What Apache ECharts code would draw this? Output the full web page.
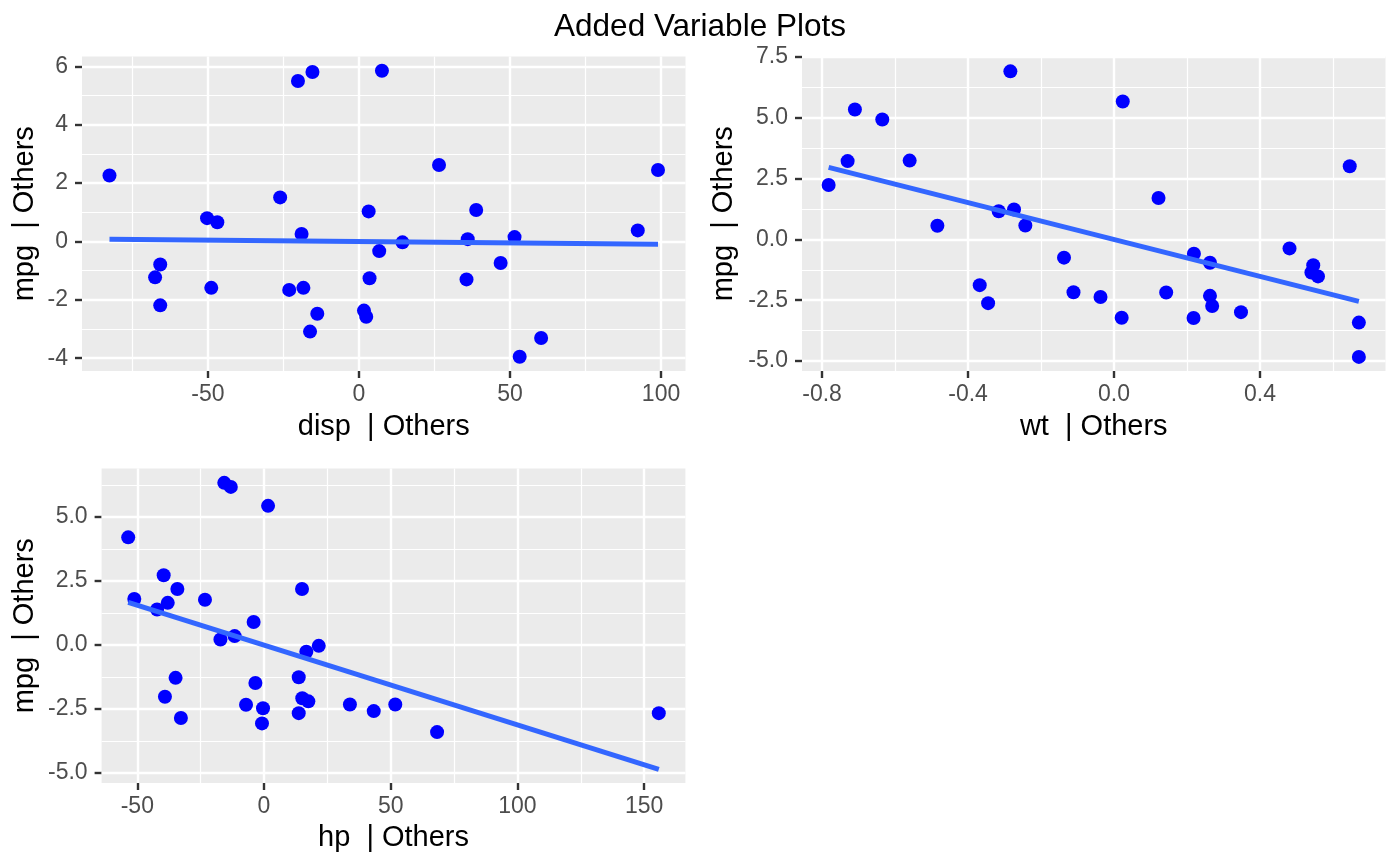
<!DOCTYPE html>
<html><head><meta charset="utf-8">
<script src="https://cdn.jsdelivr.net/npm/echarts@6/dist/echarts.min.js"></script>
<style>html,body{margin:0;padding:0;background:#fff}#c{width:1400px;height:866px}</style>
</head><body><div id="c"></div><script>
// ---- data ----
const dispX = [-82.6, -50.3, -46.9, -26.1, -20.2, -15.4, 7.6, 3.2, -19.0, 26.5, 99.0, 38.8, 92.3, 51.5, 36.0, 14.4, -65.8, -67.5, -65.8, -48.9, -23.1, -18.4, -13.8, -16.2, 1.65, 2.4, 3.5, 6.7, 46.9, 35.6, 60.3, 53.2];
const dispY = [2.26, 0.80, 0.66, 1.51, 5.50, 5.81, 5.85, 1.03, 0.26, 2.62, 2.45, 1.08, 0.38, 0.15, 0.08, -0.03, -0.79, -1.23, -2.19, -1.59, -1.66, -1.59, -2.48, -3.09, -2.37, -2.58, -1.26, -0.33, -0.74, -1.30, -3.31, -3.95];
const dispFitX = [-82.6, 99.0];
const dispFitY = [0.077, -0.093];

const wtX = [-0.782, -0.730, -0.710, -0.635, -0.560, -0.484, -0.284, -0.316, -0.274, -0.243, -0.368, -0.345, -0.137, -0.111, -0.037, 0.021, 0.024, 0.122, 0.143, 0.219, 0.263, 0.263, 0.269, 0.218, 0.348, 0.481, 0.546, 0.541, 0.559, 0.646, 0.671, 0.671];
const wtY = [2.24, 3.22, 5.34, 4.93, 3.24, 0.56, 6.91, 1.16, 1.23, 0.57, -1.88, -2.62, -0.75, -2.17, -2.37, -3.22, 5.67, 1.70, -2.18, -0.59, -0.96, -2.32, -2.74, -3.23, -2.99, -0.37, -1.06, -1.36, -1.52, 3.01, -3.42, -4.83];
const wtFitX = [-0.782, 0.671];
const wtFitY = [2.96, -2.55];

const hpX = [-15.7, -13.1, 1.6, -53.6, -39.6, -34.2, 15.0, -51.2, -38.0, -42.2, -23.3, -4.1, -17.2, -11.6, 16.7, 21.6, -34.9, -39.1, -32.8, -3.4, -7.1, -0.4, -0.8, 13.7, 15.1, 17.5, 13.7, 33.9, 43.3, 51.8, 68.3, 155.8];
const hpY = [6.34, 6.18, 5.44, 4.21, 2.73, 2.19, 2.19, 1.80, 1.65, 1.39, 1.77, 0.90, 0.22, 0.35, -0.26, -0.03, -1.28, -2.02, -2.85, -1.48, -2.33, -2.47, -3.06, -1.26, -2.08, -2.20, -2.66, -2.32, -2.58, -2.32, -3.40, -2.66];
const hpFitX = [-53.6, 155.8];
const hpFitY = [1.67, -4.86];

// tick values and labels
const dispXTicks = [-50, 0, 50, 100];
const dispXLabels = ['-50', '0', '50', '100'];
const dispXMinor = [-75, -25, 25, 75];
const dispYTicks = [-4, -2, 0, 2, 4, 6];
const dispYLabels = ['-4', '-2', '0', '2', '4', '6'];
const dispYMinor = [-3, -1, 1, 3, 5];

const wtXTicks = [-0.8, -0.4, 0, 0.4];
const wtXLabels = ['-0.8', '-0.4', '0.0', '0.4'];
const wtXMinor = [-0.6, -0.2, 0.2, 0.6];
const wtYTicks = [-5, -2.5, 0, 2.5, 5, 7.5];
const wtYLabels = ['-5.0', '-2.5', '0.0', '2.5', '5.0', '7.5'];
const wtYMinor = [-3.75, -1.25, 1.25, 3.75, 6.25];

const hpXTicks = [-50, 0, 50, 100, 150];
const hpXLabels = ['-50', '0', '50', '100', '150'];
const hpXMinor = [-25, 25, 75, 125];
const hpYTicks = [-5, -2.5, 0, 2.5, 5];
const hpYLabels = ['-5.0', '-2.5', '0.0', '2.5', '5.0'];
const hpYMinor = [-3.75, -1.25, 1.25, 3.75, 6.25];

const titleText = 'Added Variable Plots';
const yName = 'mpg  | Others';
const xNames = ['disp  | Others', 'wt  | Others', 'hp  | Others'];

// ---- layout / style ----
const FONT = '"Liberation Sans", Arial, sans-serif';
const panels = [
  {grid: {left: 82, top: 56.5, width: 603.5, height: 314.5}, xr: [-91.7, 108.1], yr: [-4.44, 6.34],
   x: dispX, y: dispY, fx: dispFitX, fy: dispFitY,
   xt: dispXTicks, xl: dispXLabels, xm: dispXMinor, yt: dispYTicks, yl: dispYLabels, ym: dispYMinor, yGap: 43, xGap: 41},
  {grid: {left: 802, top: 56.5, width: 583.5, height: 314.5}, xr: [-0.855, 0.744], yr: [-5.41, 7.52],
   x: wtX, y: wtY, fx: wtFitX, fy: wtFitY,
   xt: wtXTicks, xl: wtXLabels, xm: wtXMinor, yt: wtYTicks, yl: wtYLabels, ym: wtYMinor, yGap: 64, xGap: 41},
  {grid: {left: 101.6, top: 468.5, width: 583.8, height: 314.5}, xr: [-64.1, 166.3], yr: [-5.39, 6.9],
   x: hpX, y: hpY, fx: hpFitX, fy: hpFitY,
   xt: hpXTicks, xl: hpXLabels, xm: hpXMinor, yt: hpYTicks, yl: hpYLabels, ym: hpYMinor, yGap: 62, xGap: 40}
];

function fmt(ticks, labels) {
  return function (v) {
    const i = ticks.findIndex(t => Math.abs(t - v) < 1e-9);
    return i >= 0 ? labels[i] : '';
  };
}
function zip(a, b) { return a.map((v, i) => [v, b[i]]); }

const grids = [], xAxes = [], yAxes = [], series = [];
panels.forEach((p, i) => {
  grids.push(Object.assign({show: true, backgroundColor: '#EBEBEB', borderWidth: 0, containLabel: false}, p.grid));
  const common = {
    gridIndex: i, type: 'value',
    axisLine: {show: false, onZero: false}, splitLine: {show: false},
    nameLocation: 'middle',
    nameTextStyle: {fontSize: 29, color: '#000', fontFamily: FONT}
  };
  xAxes.push(Object.assign({}, common, {
    position: 'bottom',
    min: p.xr[0], max: p.xr[1],
    axisTick: {show: true, length: 7, lineStyle: {color: '#333333', width: 2.4}, customValues: p.xt},
    axisLabel: {customValues: p.xt, formatter: fmt(p.xt, p.xl), color: '#4D4D4D', fontSize: 23, margin: 12.5, fontFamily: FONT},
    name: xNames[i], nameGap: p.xGap
  }));
  yAxes.push(Object.assign({}, common, {
    position: 'left',
    min: p.yr[0], max: p.yr[1],
    axisTick: {show: true, length: 7, lineStyle: {color: '#333333', width: 2.4}, customValues: p.yt},
    axisLabel: {customValues: p.yt, formatter: fmt(p.yt, p.yl), color: '#4D4D4D', fontSize: 23, margin: 14, fontFamily: FONT},
    name: yName, nameGap: p.yGap, nameRotate: 90
  }));
  const gl = [];
  p.xm.forEach(v => gl.push({xAxis: v, lineStyle: {width: 1.2}}));
  p.ym.forEach(v => gl.push({yAxis: v, lineStyle: {width: 1.2}}));
  p.xt.forEach(v => gl.push({xAxis: v, lineStyle: {width: 2.4}}));
  p.yt.forEach(v => gl.push({yAxis: v, lineStyle: {width: 2.4}}));
  series.push({
    type: 'line', xAxisIndex: i, yAxisIndex: i, data: [], silent: true, z: 1,
    markLine: {silent: true, symbol: ['none', 'none'], label: {show: false}, z: 1,
      lineStyle: {color: '#FFFFFF', type: 'solid'}, emphasis: {disabled: true}, animation: false, data: gl}
  });
  series.push({
    type: 'scatter', xAxisIndex: i, yAxisIndex: i, data: zip(p.x, p.y), z: 3,
    symbol: 'circle', symbolSize: 14, itemStyle: {color: '#0000FF', opacity: 1}, silent: true
  });
  series.push({
    type: 'line', xAxisIndex: i, yAxisIndex: i, data: zip(p.fx, p.fy), z: 4,
    showSymbol: false, symbol: 'none', lineStyle: {color: '#3366FF', width: 5}, silent: true
  });
});

const chart = echarts.init(document.getElementById('c'), null, {renderer: 'canvas'});
chart.setOption({
  animation: false,
  backgroundColor: '#FFFFFF',
  title: {text: titleText, left: 'center', top: 6,
    textStyle: {fontSize: 31.5, fontWeight: 'normal', color: '#000', fontFamily: FONT}},
  grid: grids, xAxis: xAxes, yAxis: yAxes, series: series
});
</script></body></html>
